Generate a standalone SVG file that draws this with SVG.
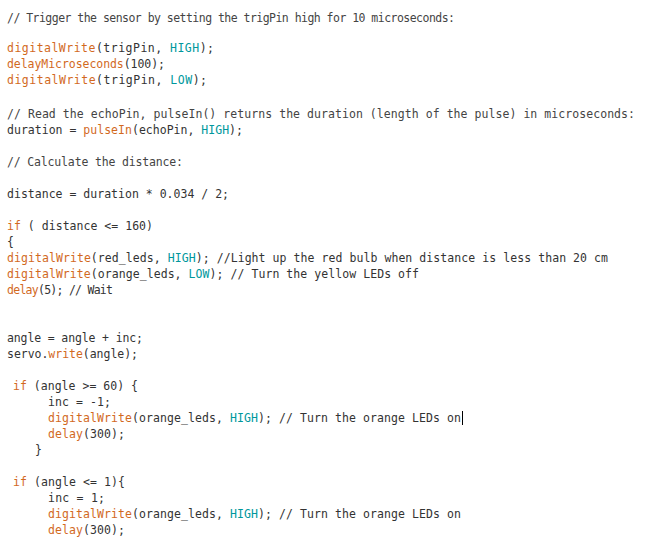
<svg xmlns="http://www.w3.org/2000/svg" width="657" height="538" viewBox="0 0 657 538">
<style>
text{font-family:"DejaVu Sans Mono","Liberation Mono",monospace;font-size:11.5px;fill:#333;white-space:pre}
.c{fill:#444}.f{fill:#d2691e}.k{fill:#00979c}
</style>
<rect width="657" height="538" fill="#fff"/>
<g id="code">
<text x="7" y="22" class="c" textLength="448" lengthAdjust="spacing">// Trigger the sensor by setting the trigPin high for 10 microseconds:</text>
<text x="7" y="52" textLength="207" lengthAdjust="spacing"><tspan class="f">digitalWrite</tspan>(trigPin, <tspan class="k">HIGH</tspan>);</text>
<text x="7" y="68" textLength="158" lengthAdjust="spacing"><tspan class="f">delayMicroseconds</tspan>(100);</text>
<text x="7" y="84" textLength="200" lengthAdjust="spacing"><tspan class="f">digitalWrite</tspan>(trigPin, <tspan class="k">LOW</tspan>);</text>
<text x="7" y="118" class="c" textLength="628" lengthAdjust="spacing">// Read the echoPin, pulseIn() returns the duration (length of the pulse) in microseconds:</text>
<text x="7" y="134" textLength="236" lengthAdjust="spacing">duration = <tspan class="f">pulseIn</tspan>(echoPin, <tspan class="k">HIGH</tspan>);</text>
<text x="7" y="166" class="c" textLength="176" lengthAdjust="spacing">// Calculate the distance:</text>
<text x="7" y="198" textLength="222" lengthAdjust="spacing">distance = duration * 0.034 / 2;</text>
<text x="7" y="230" textLength="146" lengthAdjust="spacing"><tspan class="f">if</tspan> ( distance &lt;= 160)</text>
<text x="7" y="246">{</text>
<text x="7" y="262" textLength="601" lengthAdjust="spacing"><tspan class="f">digitalWrite</tspan>(red_leds, <tspan class="k">HIGH</tspan>); //Light up the red bulb when distance is less than 20 cm</text>
<text x="7" y="278" textLength="412" lengthAdjust="spacing"><tspan class="f">digitalWrite</tspan>(orange_leds, <tspan class="k">LOW</tspan>); // Turn the yellow LEDs off</text>
<text x="7" y="294" textLength="106" lengthAdjust="spacing"><tspan class="f">delay</tspan>(5); // Wait</text>
<text x="7" y="342" textLength="136" lengthAdjust="spacing">angle = angle + inc;</text>
<text x="7" y="358" textLength="131" lengthAdjust="spacing">servo.<tspan class="f">write</tspan>(angle);</text>
<text x="13" y="390" textLength="125" lengthAdjust="spacing"><tspan class="f">if</tspan> (angle &gt;= 60) {</text>
<text x="48" y="406" textLength="63" lengthAdjust="spacing">inc = -1;</text>
<text x="48" y="422" textLength="413" lengthAdjust="spacing"><tspan class="f">digitalWrite</tspan>(orange_leds, <tspan class="k">HIGH</tspan>); // Turn the orange LEDs on</text>
<text x="48" y="438" textLength="77" lengthAdjust="spacing"><tspan class="f">delay</tspan>(300);</text>
<text x="35" y="454">}</text>
<text x="13" y="486" textLength="112" lengthAdjust="spacing"><tspan class="f">if</tspan> (angle &lt;= 1){</text>
<text x="48" y="502" textLength="57" lengthAdjust="spacing">inc = 1;</text>
<text x="48" y="518" textLength="413" lengthAdjust="spacing"><tspan class="f">digitalWrite</tspan>(orange_leds, <tspan class="k">HIGH</tspan>); // Turn the orange LEDs on</text>
<text x="48" y="534" textLength="77" lengthAdjust="spacing"><tspan class="f">delay</tspan>(300);</text>
<line x1="462.5" y1="411" x2="462.5" y2="425" stroke="#000" stroke-width="1"/>
</g>
</svg>
